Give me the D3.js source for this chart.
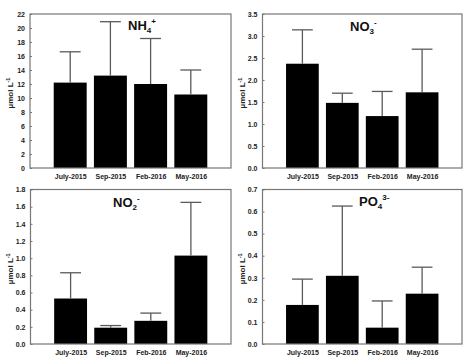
<!DOCTYPE html>
<html>
<head>
<meta charset="utf-8">
<script src="https://cdn.jsdelivr.net/npm/d3@7"></script>
<style>
  body { margin: 0; background: #fff; }
  svg { display: block; font-family: "Liberation Sans", Arial, sans-serif; }
</style>
</head>
<body>
<div id="root"></div>
<script>
// sampling campaigns
var categories = ["July-2015", "Sep-2015", "Feb-2016", "May-2016"];

// means and standard deviations (umol L-1)
var nh4Mean = [12.2, 13.2, 12.0, 10.5];
var nh4Sd = [4.4, 7.7, 6.5, 3.5];
var no3Mean = [2.37, 1.48, 1.18, 1.72];
var no3Sd = [0.77, 0.22, 0.56, 0.98];
var no2Mean = [0.53, 0.19, 0.27, 1.03];
var no2Sd = [0.30, 0.025, 0.09, 0.62];
var po4Mean = [0.177, 0.309, 0.074, 0.228];
var po4Sd = [0.117, 0.316, 0.121, 0.12];

// y axis ticks
var nh4Ticks = [0, 2, 4, 6, 8, 10, 12, 14, 16, 18, 20, 22];
var no3Ticks = [0, 0.5, 1.0, 1.5, 2.0, 2.5, 3.0, 3.5];
var no2Ticks = [0, 0.2, 0.4, 0.6, 0.8, 1.0, 1.2, 1.4, 1.6, 1.8];
var po4Ticks = [0, 0.1, 0.2, 0.3, 0.4, 0.5, 0.6, 0.7];

var w = 474, h = 364;
var svg = d3.select("#root").append("svg").attr("width", w).attr("height", h);

var panels = [
  {mean: nh4Mean, sd: nh4Sd, ticks: nh4Ticks, fmt: d3.format("d"), title: ["NH", "4", "+"],
   x0: 30, x1: 231, y0: 14, y1: 168, titleX: 128, titleY: 30, labelX: 10.5},
  {mean: no3Mean, sd: no3Sd, ticks: no3Ticks, fmt: d3.format(".1f"), title: ["NO", "3", "-"],
   x0: 262.5, x1: 462, y0: 14, y1: 168, titleX: 350, titleY: 31, labelX: 242},
  {mean: no2Mean, sd: no2Sd, ticks: no2Ticks, fmt: d3.format(".1f"), title: ["NO", "2", "-"],
   x0: 30.5, x1: 231, y0: 189.5, y1: 344, titleX: 113, titleY: 207, labelX: 10.5},
  {mean: po4Mean, sd: po4Sd, ticks: po4Ticks, fmt: d3.format(".1f"), title: ["PO", "4", "3-"],
   x0: 262.5, x1: 462, y0: 189.5, y1: 344, titleX: 359, titleY: 206, labelX: 242}
];

panels.forEach(function(p) {
  var g = svg.append("g");
  var data = categories.map(function(c, i) {
    return {cat: c, mean: p.mean[i], sd: p.sd[i]};
  });

  var xScale = d3.scalePoint().domain(categories).range([p.x0, p.x1]).padding(1);
  var step = xScale.step();
  var barW = step * 0.82;
  var capW = step * 0.52;
  var yScale = d3.scaleLinear().domain([0, d3.max(p.ticks)]).range([p.y1, p.y0]);

  // bars
  g.selectAll(".bar").data(data).enter().append("rect")
    .attr("x", function(d) { return xScale(d.cat) - barW / 2; })
    .attr("y", function(d) { return yScale(d.mean); })
    .attr("width", barW)
    .attr("height", function(d) { return yScale(0) - yScale(d.mean); })
    .attr("fill", "#000");

  // error bars (upper only)
  g.selectAll(".err").data(data).enter().append("line")
    .attr("x1", function(d) { return xScale(d.cat); })
    .attr("x2", function(d) { return xScale(d.cat); })
    .attr("y1", function(d) { return yScale(d.mean); })
    .attr("y2", function(d) { return yScale(d.mean + d.sd); })
    .attr("stroke", "#5a5a5a").attr("stroke-width", 1.3);
  g.selectAll(".cap").data(data).enter().append("line")
    .attr("x1", function(d) { return xScale(d.cat) - capW / 2; })
    .attr("x2", function(d) { return xScale(d.cat) + capW / 2; })
    .attr("y1", function(d) { return yScale(d.mean + d.sd); })
    .attr("y2", function(d) { return yScale(d.mean + d.sd); })
    .attr("stroke", "#5a5a5a").attr("stroke-width", 1.3);

  // y axis, small ticks inside the frame
  var yAxis = d3.axisLeft(yScale).tickValues(p.ticks).tickFormat(p.fmt).tickSizeInner(-2).tickSizeOuter(0).tickPadding(5);
  var ya = g.append("g").attr("transform", "translate(" + p.x0 + ",0)").call(yAxis);
  ya.select(".domain").remove();
  ya.selectAll("line").attr("stroke", "#777");
  ya.selectAll("text").attr("font-size", "7px").attr("font-weight", "bold").attr("fill", "#222")
    .attr("font-family", "Liberation Sans, Arial, sans-serif");

  // x axis labels
  var xAxis = d3.axisBottom(xScale).tickSize(0).tickPadding(6);
  var xa = g.append("g").attr("transform", "translate(0," + p.y1 + ")").call(xAxis);
  xa.select(".domain").remove();
  xa.selectAll("text").attr("font-size", "7px").attr("font-weight", "bold").attr("fill", "#222")
    .attr("font-family", "Liberation Sans, Arial, sans-serif");

  // frame
  g.append("rect").attr("x", p.x0).attr("y", p.y0)
    .attr("width", p.x1 - p.x0).attr("height", p.y1 - p.y0)
    .attr("fill", "none").attr("stroke", "#777").attr("stroke-width", 1.2);

  // title with subscript and superscript
  var t = g.append("text").attr("x", p.titleX).attr("y", p.titleY)
    .attr("font-size", "13px").attr("font-weight", "bold").attr("fill", "#111");
  t.append("tspan").text(p.title[0]);
  t.append("tspan").attr("dy", 3).attr("font-size", "8px").text(p.title[1]);
  t.append("tspan").attr("dy", -9).attr("font-size", "8px").text(p.title[2]);

  // y label
  var cy = (p.y0 + p.y1) / 2 + 2;
  var yl = g.append("text").attr("transform", "translate(" + p.labelX + "," + cy + ") rotate(-90)")
    .attr("text-anchor", "middle").attr("dy", "0.35em")
    .attr("font-size", "8px").attr("font-weight", "bold").attr("fill", "#222");
  yl.append("tspan").text("\u00b5mol L");
  yl.append("tspan").attr("dy", -3).attr("font-size", "5.5px").text("-1");
});
</script>
</body>
</html>
